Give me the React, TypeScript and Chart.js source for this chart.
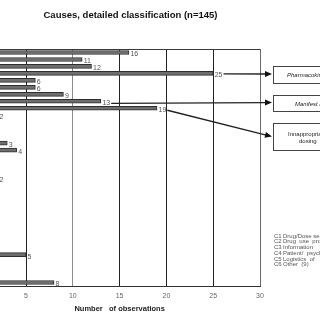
import React, { useEffect, useRef } from 'react';
import { Chart, registerables } from 'chart.js';

Chart.register(...registerables);

// ---- data ----
const chartTitle = 'Causes, detailed classification (n=145)';
const axisTitle = 'Number   of observations';
const categories: string[] = [
  '', '', '', '', '', '', '', '', '', '', '', '', '', '', '', '', '', '',
  '', '', '', '', '', '', '', '', '', '', '', '', '', '', '', '',
];
const observations: (number | null)[] = [
  16, 11, 12, 25, 6, 6, 9, 13, 19,
  2, null, null, null, 3, 4, null, null, null, 2,
  null, null, null, null, null, null, null, null, null, null,
  5, null, null, null, 8,
];
const xTickValues = [0, 5, 10, 15, 20, 25, 30];
const calloutRows = [3, 7, 8];
const calloutTexts: string[][] = [
  ['Pharmacokinetic interaction'],
  ['Manifest adverse effect'],
  ['Innappropriate', 'dosing'],
];
const calloutItalic = [true, true, false];
const legendCodes = ['C1', 'C2', 'C3', 'C4', 'C5', 'C6'];
const legendTexts = [
  'Drug/Dose selection',
  'Drug  use  process',
  'Information',
  "Patient/  psychological",
  'Logistics  of',
  'Other  (9)',
];

const SHIFT = 60; // canvas is shifted left so the cropped view matches
const FONT = '"Liberation Sans", Arial, sans-serif';

const overlayPlugin = {
  id: 'overlay',
  afterDraw(chart: any) {
    const ctx = chart.ctx as CanvasRenderingContext2D;
    const area = chart.chartArea;
    const meta = chart.getDatasetMeta(0);
    ctx.save();

    // frame
    ctx.strokeStyle = '#3a3a3a';
    ctx.lineWidth = 1;
    const top = Math.round(area.top) + 0.5;
    ctx.beginPath();
    ctx.moveTo(area.left, top);
    ctx.lineTo(area.right, top);
    ctx.stroke();

    // value labels
    ctx.font = `7px ${FONT}`;
    ctx.fillStyle = '#555';
    ctx.textBaseline = 'middle';
    ctx.textAlign = 'left';
    const labelEnds: { x: number; y: number }[] = [];
    meta.data.forEach((el: any, i: number) => {
      const v = observations[i];
      if (v === null || v === undefined) return;
      const t = String(v);
      const x = el.x + 1.5;
      const y = el.y + 2;
      ctx.fillText(t, x, y);
      labelEnds[i] = { x: x + ctx.measureText(t).width, y };
    });

    // callout boxes and arrows
    const boxLeft = area.right + 13;
    const boxTops = [66.5, 95.5, 123.5];
    const boxHeights = [17, 16, 27];
    ctx.strokeStyle = '#222';
    ctx.fillStyle = '#111';
    calloutRows.forEach((row, k) => {
      const start = labelEnds[row];
      const bt = boxTops[k];
      const bh = boxHeights[k];
      const ex = boxLeft - 1;
      const ey = k === 2 ? bt + 13 : bt + bh / 2 - 1;
      const sx = start.x + 1;
      const sy = k === 0 ? start.y - 1.5 : start.y;
      ctx.lineWidth = 1.3;
      ctx.beginPath();
      ctx.moveTo(sx, sy);
      const ang = Math.atan2(ey - sy, ex - sx);
      ctx.lineTo(ex - 6 * Math.cos(ang), ey - 6 * Math.sin(ang));
      ctx.stroke();
      ctx.beginPath();
      ctx.moveTo(ex, ey);
      ctx.lineTo(ex - 7 * Math.cos(ang) + 3 * Math.sin(ang), ey - 7 * Math.sin(ang) - 3 * Math.cos(ang));
      ctx.lineTo(ex - 7 * Math.cos(ang) - 3 * Math.sin(ang), ey - 7 * Math.sin(ang) + 3 * Math.cos(ang));
      ctx.closePath();
      ctx.fill();
      // box
      ctx.lineWidth = 1;
      ctx.strokeStyle = '#444';
      ctx.strokeRect(Math.round(boxLeft) + 0.5, bt, 80, bh);
      ctx.strokeStyle = '#222';
      // text
      ctx.font = `${calloutItalic[k] ? 'italic ' : ''}6px ${FONT}`;
      ctx.fillStyle = '#222';
      ctx.textAlign = 'left';
      const lines = calloutTexts[k];
      const tx = k === 1 ? boxLeft + 22 : k === 2 ? boxLeft + 15 : boxLeft + 14;
      lines.forEach((ln, j) => {
        const lx = j === 1 ? boxLeft + 26 : tx;
        ctx.fillText(ln, lx, bt + bh / 2 + (lines.length === 2 ? (j === 0 ? -3.5 : 3.5) : 0) + 0.5);
      });
      ctx.fillStyle = '#111';
    });

    // legend of codes
    ctx.font = `6px ${FONT}`;
    ctx.fillStyle = '#555';
    ctx.textBaseline = 'middle';
    legendCodes.forEach((c, i) => {
      const y = 236 + i * 5.75;
      ctx.fillText(c, area.right + 14, y);
      ctx.fillText(legendTexts[i], area.right + 23, y);
    });

    // chart title
    ctx.font = `bold 9.5px ${FONT}`;
    ctx.fillStyle = '#111';
    ctx.textAlign = 'center';
    ctx.fillText(chartTitle, SHIFT + 130.5, 15);
    ctx.restore();
  },
};

export default function App() {
  const ref = useRef<HTMLCanvasElement>(null);
  useEffect(() => {
    if (!ref.current) return;
    const chart = new Chart(ref.current, {
      type: 'bar',
      data: {
        labels: categories,
        datasets: [
          {
            data: observations as any,
            backgroundColor: '#6e6e6e',
            borderColor: '#2e2e2e',
            borderWidth: 1,
            barThickness: 4,
          },
        ],
      },
      options: {
        indexAxis: 'y',
        animation: false,
        responsive: false,
        devicePixelRatio: 1,
        layout: { padding: { left: SHIFT - 20.8, right: 100 + 0, top: 49, bottom: 0 } },
        plugins: { legend: { display: false }, tooltip: { enabled: false }, title: { display: false } },
        scales: {
          x: {
            type: 'linear',
            min: 0,
            max: 30,
            afterBuildTicks: (scale: any) => {
              scale.ticks = xTickValues.map((v) => ({ value: v }));
            },
            afterFit: (scale: any) => {
              scale.height = 34;
            },
            grid: {
              drawTicks: false,
              color: (c: any) => (c.tick && c.tick.value === 10 ? '#8c8c8c' : c.tick && c.tick.value === 30 ? '#6a6a6a' : '#222'),
              lineWidth: 1,
            },
            border: { display: true, color: '#333' },
            ticks: {
              padding: 6,
              color: '#666',
              font: { size: 7, family: FONT },
              callback: (v: any) => String(v),
            },
            title: {
              display: true,
              text: axisTitle,
              color: '#222',
              font: { size: 7.5, weight: 'bold', family: FONT },
              padding: { top: 0, bottom: 7 },
            },
          },
          y: {
            display: false,
            offset: true,
            grid: { display: false },
          },
        },
      },
      plugins: [overlayPlugin],
    });
    return () => chart.destroy();
  }, []);
  return (
    <div style={{ position: 'fixed', left: 0, top: 0, width: 320, height: 320, overflow: 'hidden', background: '#fff' }}>
      <canvas ref={ref} width={420} height={320} style={{ position: 'absolute', left: -SHIFT, top: 0, width: 420, height: 320 }} />
    </div>
  );
}
